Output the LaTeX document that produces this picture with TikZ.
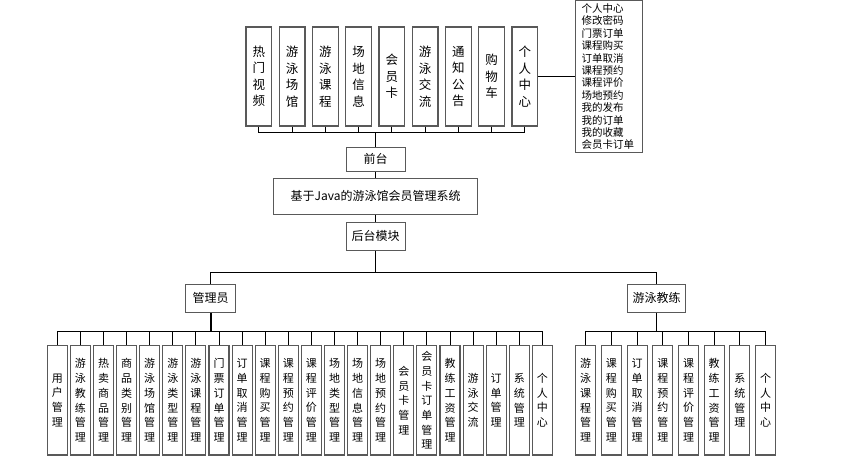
\documentclass[tikz,border=0pt]{standalone}
\usepackage{fontspec}
\newfontfamily\cjk{Noto Sans CJK SC}
\begin{document}
\begin{tikzpicture}[x=1pt,y=-1pt,
  box/.style={draw=black!65, line width=1.1pt, fill=white, rectangle, inner sep=0pt, align=center},
  topbox/.style={box, minimum width=25.7pt, minimum height=99pt, font=\cjk\fontsize{12.5}{16.5}\selectfont},
  lowbox/.style={box, minimum width=20pt, minimum height=109.3pt, font=\cjk\fontsize{11}{14.7}\selectfont},
  hbox/.style={box, font=\cjk\fontsize{12}{14}\selectfont},
  conn/.style={draw=black, line width=0.9pt}]
\useasboundingbox (0,0) rectangle (853,460);
\fill[white] (0,0) rectangle (853,460);

% top row
\foreach \t [count=\i from 0] in {热\\门\\视\\频,游\\泳\\场\\馆,游\\泳\\课\\程,场\\地\\信\\息,会\\员\\卡,游\\泳\\交\\流,通\\知\\公\\告,购\\物\\车,个\\人\\中\\心}{
  \node[topbox] (t\i) at ({258.85+33.25*\i},76.5) {\t};
}
\node[box, minimum width=67pt, minimum height=151.7pt, text width=55pt, align=left, inner xsep=6pt,
  font=\cjk\fontsize{10.5}{12.4}\selectfont] (list) at (609.2,76.8)
  {个人中心\\修改密码\\门票订单\\课程购买\\订单取消\\课程预约\\课程评价\\场地预约\\我的发布\\我的订单\\我的收藏\\会员卡订单};
\draw[conn] (t8.east) -- (list.west |- t8.east);

\node[hbox, minimum width=59pt, minimum height=23.7pt] (qt) at (375.7,159.2) {前台};
\node[hbox, minimum width=204pt, minimum height=35.7pt] (main) at (375.7,196.2) {基于Java的游泳馆会员管理系统};
\node[hbox, minimum width=59pt, minimum height=27.7pt] (ht) at (375.7,236.2) {后台模块};
\node[hbox, minimum width=50pt, minimum height=28.3pt] (gly) at (210.7,298.2) {管理员};
\node[hbox, minimum width=58.3pt, minimum height=28pt] (jl) at (656.7,298.2) {游泳教练};

\coordinate (tb) at (375.7,132.7);
\foreach \i in {0,...,8} { \draw[conn] (t\i.south) |- (tb); }
\draw[conn] (tb) -- (qt.north);
\draw[conn] (qt.south) -- (main.north);
\draw[conn] (main.south) -- (ht.north);
\coordinate (hb) at (375.7,272.3);
\draw[conn] (ht.south) -- (hb);
\draw[conn] (hb) -| (gly.north);
\draw[conn] (hb) -| (jl.north);

% admin group
\foreach \t [count=\i from 0] in {用\\户\\管\\理,游\\泳\\教\\练\\管\\理,热\\卖\\商\\品\\管\\理,商\\品\\类\\别\\管\\理,游\\泳\\场\\馆\\管\\理,游\\泳\\类\\型\\管\\理,游\\泳\\课\\程\\管\\理,门\\票\\订\\单\\管\\理,订\\单\\取\\消\\管\\理,课\\程\\购\\买\\管\\理,课\\程\\预\\约\\管\\理,课\\程\\评\\价\\管\\理,场\\地\\类\\型\\管\\理,场\\地\\信\\息\\管\\理,场\\地\\预\\约\\管\\理,会\\员\\卡\\管\\理,会\\员\\卡\\订\\单\\管\\理,教\\练\\工\\资\\管\\理,游\\泳\\交\\流,订\\单\\管\\理,系\\统\\管\\理,个\\人\\中\\心}{
  \node[lowbox] (a\i) at ({57.3+23.1*\i},400.35) {\t};
}
\coordinate (ab) at (210.7,331);
\draw[draw=black, line width=1.8pt] (gly.south) -- (ab);
\foreach \i in {0,...,21} { \draw[conn] (a\i.north) |- (ab); }

% coach group
\foreach \t [count=\i from 0] in {游\\泳\\课\\程\\管\\理,课\\程\\购\\买\\管\\理,订\\单\\取\\消\\管\\理,课\\程\\预\\约\\管\\理,课\\程\\评\\价\\管\\理,教\\练\\工\\资\\管\\理,系\\统\\管\\理,个\\人\\中\\心}{
  \node[lowbox] (c\i) at ({585.7+25.7*\i},400.35) {\t};
}
\coordinate (cb) at (656.7,331);
\draw[conn] (jl.south) -- (cb);
\foreach \i in {0,...,7} { \draw[conn] (c\i.north) |- (cb); }
\end{tikzpicture}
\end{document}
